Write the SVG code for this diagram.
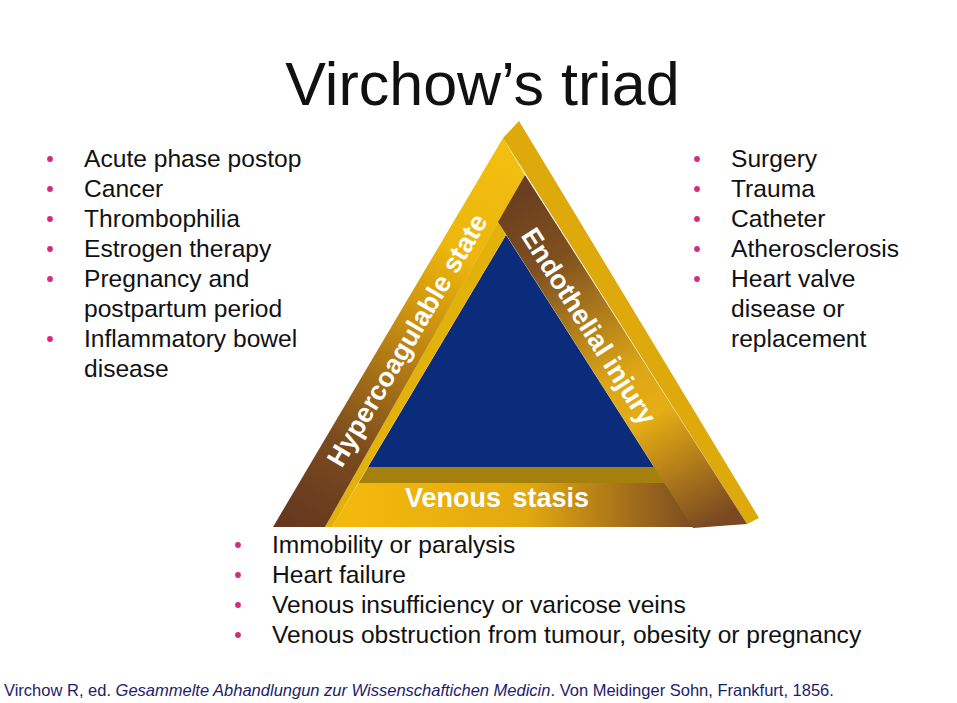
<svg xmlns="http://www.w3.org/2000/svg" width="957" height="703" viewBox="0 0 957 703">
<defs>
<style>
.t{font-family:"Liberation Sans",Arial,sans-serif;fill:#111;}
.li{font-size:24.6px;}
.lab{font-family:"Liberation Sans",Arial,sans-serif;font-weight:bold;fill:#fff;font-size:27px;}
.b{fill:#D62A7C;}
.foot{font-family:"Liberation Sans",Arial,sans-serif;font-size:16.5px;fill:#1C1C6C;}
</style>
<linearGradient id="gLeft" gradientUnits="userSpaceOnUse" x1="300" y1="527" x2="505" y2="160">
<stop offset="0" stop-color="#66381E"/>
<stop offset="0.22" stop-color="#7A4A1E"/>
<stop offset="0.55" stop-color="#C88F10"/>
<stop offset="0.75" stop-color="#ECB60C"/>
<stop offset="1" stop-color="#F2BE10"/>
</linearGradient>
<linearGradient id="gRight" gradientUnits="userSpaceOnUse" x1="520" y1="190" x2="710" y2="525">
<stop offset="0" stop-color="#6A3E1E"/>
<stop offset="0.2" stop-color="#7E5020"/>
<stop offset="0.55" stop-color="#DCA616"/>
<stop offset="0.68" stop-color="#E6AE14"/>
<stop offset="1" stop-color="#7A4822"/>
</linearGradient>
<linearGradient id="gBottom" gradientUnits="userSpaceOnUse" x1="360" y1="0" x2="695" y2="0">
<stop offset="0" stop-color="#F2B80C"/>
<stop offset="0.5" stop-color="#E2A810"/>
<stop offset="1" stop-color="#7A4A22"/>
</linearGradient>
</defs>
<rect width="957" height="703" fill="#fff"/>

<g id="title">
<text class="t" x="482.5" y="105" font-size="61" text-anchor="middle">Virchow’s triad</text>
</g>

<g id="triad">
<g id="venous-stasis">
<polygon points="368,467 700,467 700,483 358.5,483" fill="#A6800C"/>
<polygon points="358.5,483 700,483 700,527 332,527" fill="url(#gBottom)"/>
<text class="lab" x="497" y="507" text-anchor="middle" word-spacing="4">Venous stasis</text>
</g>
<polygon id="lumen" points="368,467 506,235 654,467" fill="#0B2B7B"/>
<g id="hypercoagulable-state">
<polygon points="498,222 506,235 332,527 325,527" fill="#E2B20A"/>
<polygon points="273,527 503,138 525,175 325,527" fill="url(#gLeft)"/>
<text class="lab" transform="translate(407,340) rotate(-59.4)" x="0" y="9.5" text-anchor="middle">Hypercoagulable state</text>
</g>
<g id="endothelial-injury">
<polygon points="503,138 519,121 759,518 747,524" fill="#DDA90B"/>
<polygon points="525,175 747,524 693,528 498,222" fill="url(#gRight)"/>
<text class="lab" transform="translate(589,326) rotate(57.5)" x="0" y="9.5" text-anchor="middle">Endothelial injury</text>
</g>
</g>

<g id="list-left">
<circle class="b" cx="50" cy="159" r="2.9"/><text class="t li" x="84" y="167">Acute phase postop</text>
<circle class="b" cx="50" cy="189" r="2.9"/><text class="t li" x="84" y="197">Cancer</text>
<circle class="b" cx="50" cy="219" r="2.9"/><text class="t li" x="84" y="227">Thrombophilia</text>
<circle class="b" cx="50" cy="249" r="2.9"/><text class="t li" x="84" y="257">Estrogen therapy</text>
<circle class="b" cx="50" cy="279" r="2.9"/><text class="t li" x="84" y="287">Pregnancy and</text>
<text class="t li" x="84" y="317">postpartum period</text>
<circle class="b" cx="50" cy="339" r="2.9"/><text class="t li" x="84" y="347">Inflammatory bowel</text>
<text class="t li" x="84" y="377">disease</text>
</g>

<g id="list-right">
<circle class="b" cx="697" cy="159" r="2.9"/><text class="t li" x="731" y="167">Surgery</text>
<circle class="b" cx="697" cy="189" r="2.9"/><text class="t li" x="731" y="197">Trauma</text>
<circle class="b" cx="697" cy="219" r="2.9"/><text class="t li" x="731" y="227">Catheter</text>
<circle class="b" cx="697" cy="249" r="2.9"/><text class="t li" x="731" y="257">Atherosclerosis</text>
<circle class="b" cx="697" cy="279" r="2.9"/><text class="t li" x="731" y="287">Heart valve</text>
<text class="t li" x="731" y="317">disease or</text>
<text class="t li" x="731" y="347">replacement</text>
</g>

<g id="list-bottom">
<circle class="b" cx="238" cy="545" r="2.9"/><text class="t li" x="272" y="553">Immobility or paralysis</text>
<circle class="b" cx="238" cy="575" r="2.9"/><text class="t li" x="272" y="583">Heart failure</text>
<circle class="b" cx="238" cy="605" r="2.9"/><text class="t li" x="272" y="613">Venous insufficiency or varicose veins</text>
<circle class="b" cx="238" cy="635" r="2.9"/><text class="t li" x="272" y="643">Venous obstruction from tumour, obesity or pregnancy</text>
</g>

<g id="footer">
<text class="foot" x="4" y="696">Virchow R, ed. <tspan font-style="italic">Gesammelte Abhandlungun zur Wissenschaftichen Medicin</tspan>. Von Meidinger Sohn, Frankfurt, 1856.</text>
</g>
</svg>
